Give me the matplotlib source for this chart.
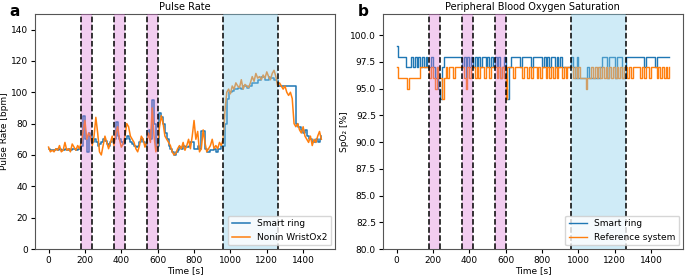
import numpy as np
import matplotlib
matplotlib.use('Agg')
import matplotlib.pyplot as plt

# sample time [s], one value every 10 s
time_s = np.arange(0, 1510, 10)

# pulse rate [bpm]
ring_pr = [64, 63, 63, 63, 64, 63, 64, 63, 63, 64, 63, 64, 63, 64, 64, 63, 64, 64,
           66, 85, 70, 62, 74, 72, 68, 70, 68, 66, 67, 68, 70, 69, 67, 66, 68, 70,
           70, 81, 72, 70, 68, 67, 70, 72, 70, 68, 67, 66, 65, 66, 68, 70, 68, 66,
           72, 76, 70, 95, 80, 65, 66, 87, 84, 80, 74, 70, 66, 64, 62, 60, 62, 63,
           65, 64, 66, 65, 65, 66, 68, 68, 64, 64, 66, 64, 75, 75, 64, 62, 62, 63,
           63, 64, 62, 64, 64, 66, 66, 80, 96, 100, 100, 101, 102, 102, 103, 103,
           102, 104, 104, 103, 104, 104, 106, 106, 106, 108, 108, 110, 110, 108, 108, 110,
           109, 109, 108, 108, 104, 104, 104, 104, 104, 104, 104, 104, 104, 104, 80, 78,
           78, 76, 74, 76, 72, 70, 70, 68, 68, 70, 68, 70, 72]
nonin_pr = [65, 62, 63, 62, 64, 63, 66, 62, 63, 68, 63, 64, 62, 67, 65, 63, 66, 64,
            68, 75, 82, 70, 74, 72, 66, 72, 84, 74, 62, 60, 66, 72, 68, 64, 68, 72,
            66, 74, 78, 70, 65, 67, 72, 80, 78, 72, 70, 68, 64, 62, 66, 72, 70, 65,
            68, 74, 68, 90, 72, 62, 66, 78, 85, 80, 72, 70, 68, 66, 62, 60, 61, 64,
            66, 64, 68, 63, 66, 70, 64, 72, 82, 70, 75, 62, 64, 76, 68, 62, 64, 66,
            70, 64, 66, 64, 68, 66, 70, 88, 100, 102, 99, 104, 102, 106, 104, 103,
            108, 102, 105, 104, 103, 106, 110, 107, 112, 109, 110, 108, 111, 109, 113, 110,
            108, 112, 114, 110, 104, 106, 104, 102, 104, 100, 98, 100, 96, 80, 78, 80,
            76, 74, 78, 72, 70, 68, 72, 66, 70, 68, 72, 75, 70]

# SpO2 [%]
ring_spo2 = [99, 98, 98, 98, 98, 97, 97, 97, 98, 97, 98, 97, 98, 97, 98, 97, 98, 97,
             97, 98, 97, 96, 97, 95, 94, 97, 98, 98, 98, 98, 98, 98, 98, 98, 98, 98,
             97, 98, 96, 98, 97, 98, 97, 98, 97, 98, 97, 98, 98, 97, 98, 97, 98, 97,
             98, 97, 98, 96, 97, 98, 95, 94, 97, 98, 98, 98, 98, 98, 97, 98, 98, 98,
             98, 98, 97, 98, 98, 98, 98, 98, 97, 98, 97, 98, 97, 98, 98, 97, 98, 97,
             98, 97, 97, 97, 97, 97, 98, 97, 96, 98, 96, 96, 96, 96, 96, 97, 96, 96,
             96, 96, 96, 96, 97, 98, 98, 98, 96, 98, 98, 98, 96, 98, 98, 98, 96, 96,
             98, 98, 98, 98, 98, 98, 98, 98, 98, 98, 97, 98, 98, 98, 98, 98, 97, 98,
             98, 98, 98, 98, 98, 98, 98]
ref_spo2 = [97, 96, 96, 96, 96, 96, 95, 96, 96, 96, 96, 96, 96, 97, 97, 97, 97, 97,
            96, 97, 96, 95, 97, 96, 96, 94, 96, 97, 96, 97, 97, 96, 97, 97, 97, 97,
            97, 96, 95, 97, 96, 97, 97, 96, 97, 96, 97, 97, 96, 97, 97, 96, 97, 97,
            97, 96, 97, 96, 97, 96, 94, 97, 97, 97, 96, 97, 97, 97, 97, 96, 97, 97,
            96, 97, 96, 97, 97, 96, 97, 96, 97, 97, 96, 97, 96, 97, 96, 97, 96, 97,
            97, 96, 97, 96, 97, 97, 97, 96, 97, 96, 97, 96, 96, 96, 95, 96, 96, 97,
            96, 97, 96, 97, 96, 97, 96, 97, 96, 97, 96, 97, 96, 97, 96, 97, 96, 97,
            97, 96, 97, 96, 97, 97, 97, 97, 96, 97, 96, 97, 97, 96, 97, 97, 97, 96,
            97, 96, 97, 96, 97, 96, 97]

# protocol phases [s]
breath_holds = [(180, 240), (360, 420), (540, 600)]
exercise = (960, 1260)

fig = plt.figure(figsize=(6.85, 2.75), dpi=100)
ax1 = fig.add_axes([0.051, 0.0945, 0.438, 0.855])
ax2 = fig.add_axes([0.559, 0.0945, 0.438, 0.855])


def phases(ax):
    # shaded phases sit on top of the traces, like the original
    for a, b in breath_holds:
        ax.axvspan(a, b, color='orchid', alpha=0.35, lw=0, zorder=3)
        ax.axvline(a, color='k', ls='--', lw=1.1, zorder=4)
        ax.axvline(b, color='k', ls='--', lw=1.1, zorder=4)
    ax.axvspan(exercise[0], exercise[1], color='skyblue', alpha=0.4, lw=0, zorder=3)
    ax.axvline(exercise[0], color='k', ls='--', lw=1.1, zorder=4)
    ax.axvline(exercise[1], color='k', ls='--', lw=1.1, zorder=4)


ax1.plot(time_s, ring_pr, color='tab:blue', lw=1.1, drawstyle='steps-post', label='Smart ring')
ax1.plot(time_s, nonin_pr, color='tab:orange', lw=1.1, label='Nonin WristOx2')
phases(ax1)
ax1.set_ylim(0, 150)
ax1.set_yticks(range(0, 141, 20))
ax1.set_title('Pulse Rate', fontsize=7, pad=3)
ax1.set_ylabel('Pulse Rate [bpm]', fontsize=6.5, labelpad=1)

ax2.plot(time_s, ring_spo2, color='tab:blue', lw=1.0, drawstyle='steps-post', label='Smart ring')
ax2.plot(time_s, ref_spo2, color='tab:orange', lw=1.0, drawstyle='steps-post', label='Reference system')
phases(ax2)
ax2.set_ylim(80, 102)
ax2.set_title('Peripheral Blood Oxygen Saturation', fontsize=7, pad=3)
ax2.set_ylabel('SpO\u2082 [%]', fontsize=6.5, labelpad=1)

for ax in (ax1, ax2):
    ax.set_xlim(-75, 1575)
    ax.set_xticks(range(0, 1401, 200))
    ax.set_xlabel('Time [s]', fontsize=6.5, labelpad=1)
    ax.tick_params(labelsize=6.5, length=3, pad=2)
    for s in ax.spines.values():
        s.set_color('#555555')
    leg = ax.legend(loc='lower right', fontsize=6.5, borderaxespad=0.4)
    leg.set_zorder(5)

fig.text(0.014, 0.957, 'a', fontsize=11, fontweight='bold', va='center')
fig.text(0.522, 0.957, 'b', fontsize=11, fontweight='bold', va='center')

plt.savefig('out.png', dpi=100)
